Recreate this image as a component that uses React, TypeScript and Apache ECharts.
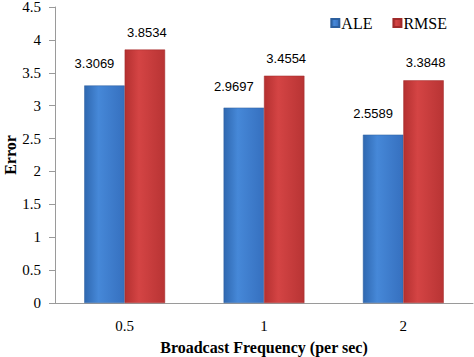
import React, { useEffect, useRef } from "react";
import * as echarts from "echarts";

const categories = ["0.5", "1", "2"];
const aleValues = [3.3069, 2.9697, 2.5589];
const rmseValues = [3.8534, 3.4554, 3.3848];
const seriesNames = ["ALE", "RMSE"];
const yAxisTitle = "Error";

export default function App() {
  const ref = useRef<HTMLDivElement>(null);
  useEffect(() => {
    if (!ref.current) return;
    const chart = echarts.init(ref.current, null, { renderer: "svg" });
    const serif = "'Liberation Serif', 'Times New Roman', serif";
    const sans = "'Liberation Sans', Arial, sans-serif";
    const grad = (a: string, b: string, c: string) =>
      new echarts.graphic.LinearGradient(0, 0, 1, 0, [
        { offset: 0, color: a },
        { offset: 0.35, color: b },
        { offset: 1, color: c },
      ]);
    chart.setOption({
      animation: false,
      backgroundColor: "#ffffff",
      grid: {
        left: 55,
        right: 1,
        top: 7,
        bottom: 54,
        containLabel: false,
        outerBoundsMode: "none",
      },
      graphic: [
        {
          type: "text",
          x: 10,
          y: 155,
          rotation: Math.PI / 2,
          style: {
            text: yAxisTitle,
            font: `bold 16px ${serif}`,
            fill: "#000",
            align: "center",
            verticalAlign: "middle",
          },
        },
      ],
      legend: {
        data: seriesNames,
        right: 22,
        top: 10,
        icon: "rect",
        itemWidth: 8,
        itemHeight: 8,
        itemGap: 20,
        textStyle: { fontFamily: serif, fontSize: 16, color: "#000", padding: [0, 0, 0, -3] },
      },
      xAxis: {
        type: "category",
        data: categories,
        axisLine: { lineStyle: { color: "#9a9a9a" } },
        axisTick: { show: false },
        axisLabel: { fontFamily: serif, fontSize: 15, color: "#000", margin: 15 },
        name: "Broadcast Frequency (per sec)",
        nameLocation: "middle",
        nameGap: 36,
        nameTextStyle: { fontFamily: serif, fontSize: 16, fontWeight: "bold", color: "#000" },
      },
      yAxis: {
        type: "value",
        min: 0,
        max: 4.5,
        interval: 0.5,
        splitLine: { show: false },
        axisLine: { show: true, lineStyle: { color: "#9a9a9a" } },
        axisTick: { show: true, length: 6, lineStyle: { color: "#9a9a9a" } },
        axisLabel: { fontFamily: serif, fontSize: 15, color: "#000", margin: 14 },
      },
      series: [
        {
          name: seriesNames[0],
          type: "bar",
          data: aleValues,
          barGap: "0%",
          barCategoryGap: "42%",
          itemStyle: {
            color: grad("#2f68b0", "#4688d8", "#3670bf"),
            borderColor: "#2c5f9e",
            borderWidth: 0.5,
          },
          label: {
            show: true,
            position: "top",
            distance: 15,
            offset: [-10, 0],
            fontFamily: sans,
            fontSize: 13,
            color: "#000",
            formatter: (p: any) => p.value.toFixed(4),
          },
        },
        {
          name: seriesNames[1],
          type: "bar",
          data: rmseValues,
          itemStyle: {
            color: grad("#b43030", "#d44444", "#b83434"),
            borderColor: "#a02a2a",
            borderWidth: 0.5,
          },
          label: {
            show: true,
            position: "top",
            distance: 11,
            offset: [2, 0],
            fontFamily: sans,
            fontSize: 13,
            color: "#000",
            formatter: (p: any) => p.value.toFixed(4),
          },
        },
      ],
    });
    return () => chart.dispose();
  }, []);
  return (
    <div
      ref={ref}
      style={{ position: "fixed", left: 0, top: 0, width: 474, height: 357, background: "#fff" }}
    />
  );
}
